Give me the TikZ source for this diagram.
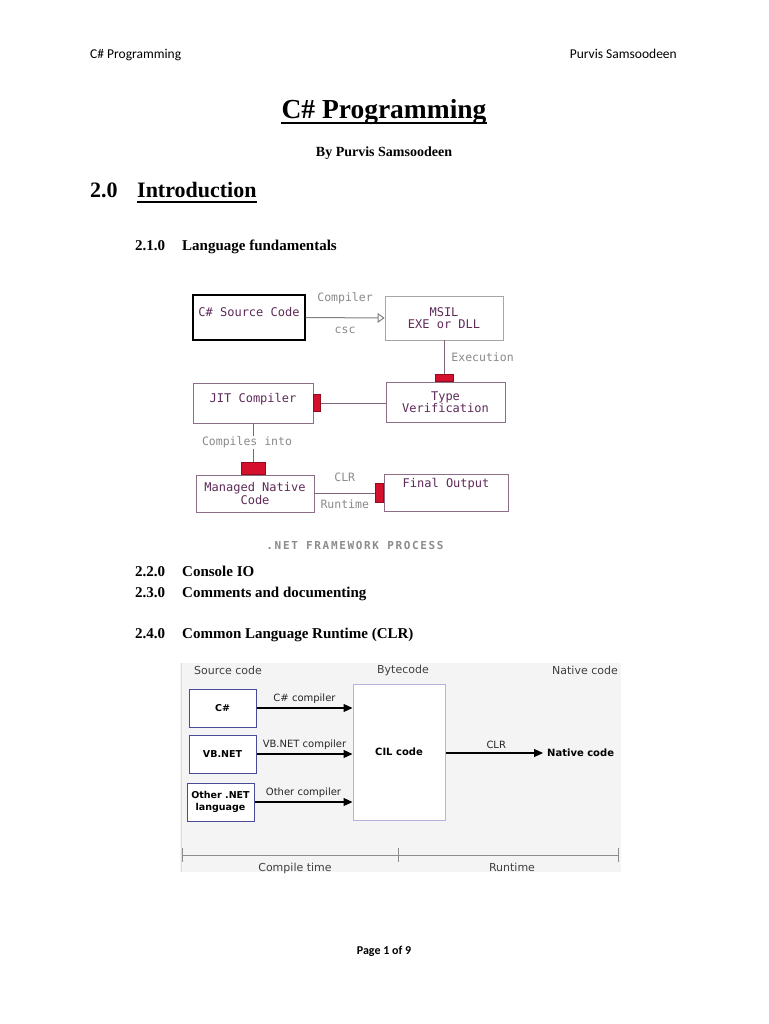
\documentclass[tikz,border=0pt]{standalone}
\usepackage{fontspec}
\setmainfont{Liberation Serif}
\newfontfamily\hdrfont{Carlito}
\newfontfamily\dgmono{DejaVu Sans Mono}
\newfontfamily\dgsans{DejaVu Sans}
\usetikzlibrary{arrows.meta,positioning}
\definecolor{plum}{HTML}{5E2A58}
\definecolor{plumline}{HTML}{8C6E86}
\definecolor{tabred}{HTML}{D4102C}
\definecolor{lblgray}{HTML}{8A8A8A}
\definecolor{boxblue}{HTML}{4A4A9A}
\definecolor{cilblue}{HTML}{B4B4DC}
\definecolor{hatch}{HTML}{F4F4F4}
\definecolor{edgeyel}{HTML}{EEDFA8}
\tikzset{
  hdr/.style={font=\hdrfont\fontsize{13.5}{16}\selectfont, inner sep=0pt},
  headtxt/.style={font=\bfseries\fontsize{15}{18}\selectfont, inner sep=0pt, anchor=base west},
  flowbox/.style={draw=plumline, line width=.9pt, text=plum, font=\dgmono\fontsize{12}{12.5}\selectfont, align=center, inner sep=0pt},
  flowlbl/.style={text=lblgray, font=\dgmono\fontsize{11.5}{12}\selectfont, inner sep=1pt},
  redtab/.style={fill=tabred, draw=tabred!70!black, line width=.5pt, inner sep=0pt},
  flowline/.style={draw=plumline!90!black, line width=.9pt},
  langbox/.style={draw=boxblue, fill=white, line width=1pt, font=\dgsans\bfseries\fontsize{9.5}{11.5}\selectfont, align=center, inner sep=0pt, minimum width=67, minimum height=38},
  clrlbl/.style={font=\dgsans\fontsize{10}{12}\selectfont, text=black!85, inner sep=1pt},
  colhead/.style={font=\dgsans\fontsize{11}{13}\selectfont, text=black!75, inner sep=0pt},
  clrarrow/.style={-{Triangle[length=9pt,width=8pt]}, line width=1.2pt},
}
\begin{document}
\begin{tikzpicture}[x=1pt,y=-1pt]
    \fill[white] (0,0) rectangle (768,1024);
    \useasboundingbox (0,0) rectangle (768,1024);
    % page text
    \node[hdr, anchor=base west] (headl) at (90,59) {C\# Programming};
    \node[hdr, anchor=base east] (headr) at (677,59) {Purvis Samsoodeen};
    \node[font=\bfseries\fontsize{27.5}{30}\selectfont, inner sep=0pt, anchor=base] (title) at (384,119) {C\# Programming};
    \draw[line width=1.4pt] ([yshift=-4pt]title.base west) -- ([yshift=-4pt]title.base east);
    \node[font=\bfseries\fontsize{14}{16}\selectfont, inner sep=0pt, anchor=base] (byline) at (384,157) {By Purvis Samsoodeen};
    \node[font=\bfseries\fontsize{22}{24}\selectfont, inner sep=0pt, anchor=base west] (secnum) at (90,198) {2.0};
    \node[font=\bfseries\fontsize{22}{24}\selectfont, inner sep=0pt, anchor=base west] (sectitle) at (137,198) {Introduction};
    \draw[line width=1.1pt] ([yshift=-4pt]sectitle.base west) -- ([yshift=-4pt]sectitle.base east);
    \foreach \num/\txt/\yy [count=\i] in {2.1.0/Language fundamentals/250, 2.2.0/Console IO/576, 2.3.0/Comments and documenting/597, 2.4.0/Common Language Runtime (CLR)/638} {
        \node[headtxt] (subnum\i) at (135,\yy) {\num};
        \node[headtxt] (subtxt\i) at (182,\yy) {\txt};
    }
    % .NET framework process
    \node[flowbox, draw=black, line width=1.1pt, minimum width=112, minimum height=45, text depth=11pt] (src) at (249,317.5) {C\# Source Code};
    \node[flowbox, draw=black!35, minimum width=118, minimum height=44] (msil) at (444,318) {MSIL\\EXE or DLL};
    \node[flowbox, minimum width=119, minimum height=40] (tv) at (445.5,402) {Type\\Verification};
    \node[flowbox, minimum width=120, minimum height=40, text depth=10pt] (jit) at (253,403) {JIT Compiler};
    \node[flowbox, minimum width=118, minimum height=37] (mnc) at (255,493.5) {Managed Native\\Code};
    \node[flowbox, minimum width=124, minimum height=37, text depth=19pt] (fout) at (446,492.5) {Final Output};
    \node[redtab, minimum width=18, minimum height=7, anchor=south] (tvtab) at (tv.north -| msil.south) {};
    \node[redtab, minimum width=7, minimum height=17, anchor=west] (jittab) at (jit.east) {};
    \node[redtab, minimum width=24, minimum height=12, anchor=south] (mnctab) at (mnc.north -| jit.south) {};
    \node[redtab, minimum width=8, minimum height=19, anchor=east] (fouttab) at (fout.west) {};
    \draw[draw=black!50, line width=1pt, -{Triangle[open, length=7pt, width=10pt]}] (src.east) -- (msil.west)
        node[flowlbl, midway, above=12pt] {Compiler} node[flowlbl, midway, below=8pt] {csc};
    \draw[flowline] (msil.south) -- (tvtab.north) node[flowlbl, midway, right=6pt] {Execution};
    \draw[flowline] (jittab.east) -- (jittab.east -| tv.west);
    \draw[flowline] (jit.south) -- (mnctab.north) node[flowlbl, midway, fill=white, xshift=-6pt] {Compiles into};
    \draw[flowline] (mnc.east) -- (mnc.east -| fouttab.west)
        node[flowlbl, midway, above=10pt] {CLR} node[flowlbl, midway, below=5pt] {Runtime};
    \node[font=\dgmono\bfseries\fontsize{11}{12}\selectfont\addfontfeatures{LetterSpace=15}, text=black!45, inner sep=0pt] (netcap) at (355,545) {.NET FRAMEWORK PROCESS};
    % common language runtime
    \fill[hatch] (180,663) rectangle (621,872);
    \draw[edgeyel, line width=1pt] (181,663) -- (181,872);
    \node[colhead] (hsrc) at (228,670) {Source code};
    \node[colhead] (hbyte) at (403,670) {Bytecode};
    \node[colhead] (hnat) at (585,670) {Native code};
    \node[langbox] (cs) at (222.5,708) {C\#};
    \node[langbox] (vb) at (222.5,754) {VB.NET};
    \node[langbox] (oth) at (220.5,802) {Other .NET\\language};
    \node[draw=cilblue, fill=white, line width=1pt, minimum width=92, minimum height=136, font=\dgsans\bfseries\fontsize{10}{12}\selectfont] (cil) at (399,752) {CIL code};
    \node[font=\dgsans\bfseries\fontsize{10}{12}\selectfont, inner sep=0pt, anchor=west] (nat) at (547,753) {Native code};
    \draw[clrarrow] (cs.east) -- (cs.east -| cil.west) node[clrlbl, midway, above=3pt] {C\# compiler};
    \draw[clrarrow] (vb.east) -- (vb.east -| cil.west) node[clrlbl, midway, above=3pt] {VB.NET compiler};
    \draw[clrarrow] (oth.east) -- (oth.east -| cil.west) node[clrlbl, midway, above=3pt] {Other compiler};
    \draw[clrarrow, shorten >=4pt] (cil.east |- nat.west) -- (nat.west) node[clrlbl, midway, above=3pt] {CLR};
    \coordinate (tl0) at (182,855);
    \coordinate (tlm) at (398,855);
    \coordinate (tl1) at (618,855);
    \draw[black!45, line width=.8pt] (tl0) -- (tl1);
    \foreach \c in {tl0,tlm,tl1}
        \draw[black!45, line width=.8pt] ([yshift=7pt]\c) -- ([yshift=-7pt]\c);
    \node[colhead, anchor=base] (ctime) at (295,871) {Compile time};
    \node[colhead, anchor=base] (rtime) at (512,871) {Runtime};
    % footer
    \node[font=\hdrfont\bfseries\fontsize{12}{14}\selectfont, inner sep=0pt] (pagenum) at (384,951) {Page 1 of 9};
\end{tikzpicture}
\end{document}
